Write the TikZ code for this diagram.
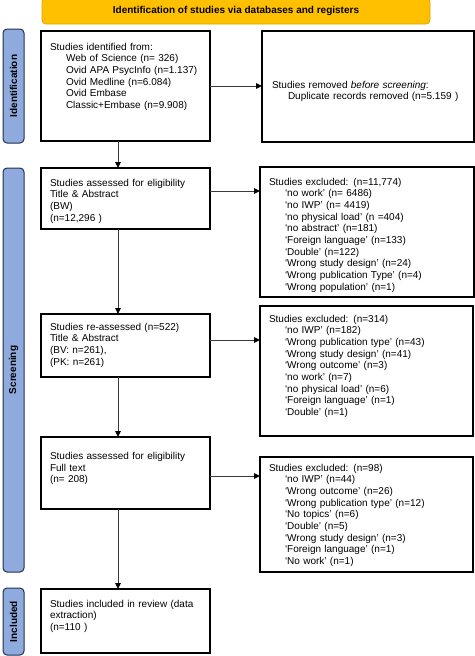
\documentclass[tikz,border=0pt]{standalone}
\usepackage{fontspec}
\setmainfont{Liberation Sans}
\usepackage{tikz}
\usetikzlibrary{arrows.meta,positioning}
\definecolor{gold}{HTML}{FFC000}
\definecolor{goldline}{HTML}{DDA600}
\definecolor{phase}{HTML}{8FAADC}
\definecolor{phaseline}{HTML}{22304F}
\definecolor{linkgray}{HTML}{3A3A3A}
\newcommand{\indnt}{\hspace*{16pt}}

\begin{document}
\begin{tikzpicture}[x=1pt,y=-1pt,
    node distance=27pt,
    box/.style={draw=black,line width=1.1pt,align=left,inner xsep=9pt,inner ysep=0pt,outer sep=0pt,
      text width=151pt,font=\fontsize{10}{11.7}\selectfont},
    sidebox/.style={box,anchor=north west,text width=195pt},
    head/.style={draw=goldline,fill=gold,line width=0.8pt,rounded corners=4pt,
      minimum width=388pt,minimum height=26pt,font=\bfseries\fontsize{10}{12}\selectfont},
    phasebar/.style={draw=phaseline,fill=phase,line width=1pt,rounded corners=4pt,rotate=90,
      minimum height=21pt,inner sep=0pt,font=\bfseries\fontsize{10}{12}\selectfont},
    arrow/.style={draw=linkgray,line width=0.9pt,-{Triangle[length=6pt,width=5.5pt,color=black]}}
  ]
    \useasboundingbox (0,0) rectangle (474,656);

    % header and phases
    \node[head] (title) at (236,11) {Identification of studies via databases and registers};
    \node[phasebar,minimum width=114pt] (phid) at (13.5,86) {Identification};
    \node[phasebar,minimum width=404pt] (phscr) at (13.5,370) {Screening};
    \node[phasebar,minimum width=67pt] (phinc) at (13.5,621.5) {Included};

    % main column
    \node[box,anchor=north west,text height=19pt,text depth=91pt] (id) at (41,31)
      {Studies identified from:\\
       \indnt Web of Science (n= 326)\\
       \indnt Ovid APA PsycInfo (n=1.137)\\
       \indnt Ovid Medline (n=6.084)\\
       \indnt Ovid Embase\\
       \indnt Classic+Embase (n=9.908)};
    \node[box,below=of id,text height=18pt,text depth=43pt] (assess)
      {Studies assessed for eligibility\\
       Title \& Abstract\\
       (BW)\\
       (n=12,296 )};
    \node[box,below=85pt of assess,text height=16pt,text depth=47pt] (reassess)
      {Studies re-assessed (n=522)\\
       Title \& Abstract\\
       (BV: n=261),\\
       (PK: n=261)};
    \node[box,below=60pt of reassess,text height=22.5pt,text depth=49.5pt] (fulltext)
      {Studies assessed for eligibility\\
       Full text\\
       (n= 208)};
    \node[box,below=80pt of fulltext,text height=18pt,text depth=46pt] (incl)
      {Studies included in review (data\\
       extraction)\\
       (n=110 )};

    % side column
    \node[sidebox,inner xsep=10pt,text width=192pt,text height=57pt,text depth=54pt] (removed) at (262,31)
      {Studies removed \emph{before screening}:\\
       \indnt Duplicate records removed (n=5.159 )};
    \node[sidebox,text width=196pt,text height=18pt,text depth=112pt] (excla) at (260,167)
      {Studies excluded: (n=11,774)\\
       \indnt ‘no work’ (n= 6486)\\
       \indnt ‘no IWP’ (n= 4419)\\
       \indnt ‘no physical load’ (n =404)\\
       \indnt ‘no abstract’ (n=181)\\
       \indnt ‘Foreign language’ (n=133)\\
       \indnt ‘Double’ (n=122)\\
       \indnt ‘Wrong study design’ (n=24)\\
       \indnt ‘Wrong publication Type’ (n=4)\\
       \indnt ‘Wrong population’ (n=1)};
    \node[sidebox,text height=16pt,text depth=114pt] (exclb) at (260,306)
      {Studies excluded: (n=314)\\
       \indnt ‘no IWP’ (n=182)\\
       \indnt ‘Wrong publication type’ (n=43)\\
       \indnt ‘Wrong study design’ (n=41)\\
       \indnt ‘Wrong outcome’ (n=3)\\
       \indnt ‘no work’ (n=7)\\
       \indnt ‘no physical load’ (n=6)\\
       \indnt ‘Foreign language’ (n=1)\\
       \indnt ‘Double’ (n=1)};
    \node[sidebox,text height=14pt,text depth=101pt] (exclc) at (260,457)
      {Studies excluded: (n=98)\\
       \indnt ‘no IWP’ (n=44)\\
       \indnt ‘Wrong outcome’ (n=26)\\
       \indnt ‘Wrong publication type’ (n=12)\\
       \indnt ‘No topics’ (n=6)\\
       \indnt ‘Double’ (n=5)\\
       \indnt ‘Wrong study design’ (n=3)\\
       \indnt ‘Foreign language’ (n=1)\\
       \indnt ‘No work’ (n=1)};

    % arrows
    \coordinate (spine) at (118,0);
    \draw[arrow] (id.south -| spine) -- (assess.north -| spine);
    \draw[arrow] (assess.south -| spine) -- (reassess.north -| spine);
    \draw[arrow] (reassess.south -| spine) -- (fulltext.north -| spine);
    \draw[arrow] (fulltext.south -| spine) -- (incl.north -| spine);
    \draw[arrow] (id.east) -- (id.east -| removed.west);
    \draw[arrow] ([yshift=7.5pt]assess.east) -- ([yshift=7.5pt]assess.east -| excla.west);
    \draw[arrow] ([yshift=5.5pt]reassess.east) -- ([yshift=5.5pt]reassess.east -| exclb.west);
    \draw[arrow] ([yshift=-3pt]fulltext.east) -- ([yshift=-3pt]fulltext.east -| exclc.west);
\end{tikzpicture}
\end{document}
